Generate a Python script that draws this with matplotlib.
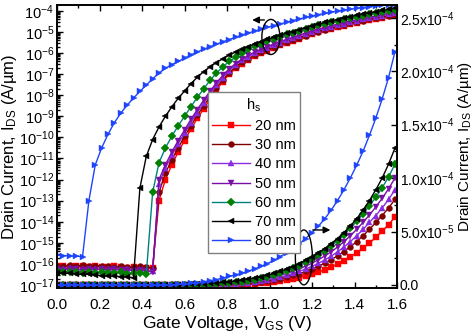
import matplotlib
matplotlib.use("Agg")
import numpy as np
import matplotlib.pyplot as plt
from matplotlib.patches import Ellipse
from matplotlib.ticker import (FixedLocator, FixedFormatter, LogLocator, MultipleLocator,
                               NullFormatter, FormatStrFormatter)

plt.rcParams["font.family"] = ["Liberation Sans", "DejaVu Sans"]
plt.rcParams["mathtext.fontset"] = "custom"
plt.rcParams["mathtext.rm"] = "Liberation Sans"
plt.rcParams["mathtext.it"] = "Liberation Sans:italic"

# gate voltage sweep (V)
vgs = [0.00, 0.03, 0.06, 0.09, 0.12, 0.15, 0.18, 0.21, 0.24, 0.27,
       0.30, 0.33, 0.36, 0.39, 0.42, 0.45, 0.48, 0.51, 0.54, 0.57,
       0.60, 0.63, 0.66, 0.69, 0.72, 0.75, 0.78, 0.81, 0.84, 0.87,
       0.90, 0.93, 0.96, 0.99, 1.02, 1.05, 1.08, 1.11, 1.14, 1.17,
       1.20, 1.23, 1.26, 1.29, 1.32, 1.35, 1.38, 1.41, 1.44, 1.47,
       1.50, 1.53, 1.56, 1.59]

# log10 of drain current (A/um), left axis
log_20 = [-16.12, -16.10, -16.14, -16.08, -16.12, -16.15, -16.10, -16.13, -16.16, -16.12,
          -16.14, -16.18, -16.15, -16.17, -16.20, -16.18, -13.0, -12.0, -11.3, -10.7,
          -10.15, -9.6, -9.1, -8.65, -8.2, -7.75, -7.35, -7.0, -6.72, -6.5,
          -6.32, -6.16, -6.02, -5.88, -5.76, -5.64, -5.53, -5.42, -5.31, -5.21,
          -5.11, -5.02, -4.93, -4.85, -4.77, -4.70, -4.63, -4.56, -4.50, -4.44,
          -4.38, -4.32, -4.26, -4.20]
log_30 = [-16.08, -16.12, -16.06, -16.10, -16.05, -16.09, -16.12, -16.08, -16.10, -16.14,
          -16.11, -16.13, -16.16, -16.12, -16.15, -16.20, -12.6, -11.7, -11.05, -10.5,
          -9.95, -9.45, -8.95, -8.5, -8.07, -7.65, -7.27, -6.93, -6.66, -6.44,
          -6.26, -6.10, -5.96, -5.83, -5.71, -5.59, -5.48, -5.37, -5.27, -5.17,
          -5.07, -4.98, -4.89, -4.81, -4.73, -4.66, -4.59, -4.52, -4.46, -4.40,
          -4.34, -4.28, -4.22, -4.16]
log_40 = [-16.22, -16.25, -16.20, -16.28, -16.24, -16.26, -16.22, -16.27, -16.25, -16.23,
          -16.28, -16.26, -16.30, -16.27, -16.32, -16.35, -12.2, -11.45, -10.85, -10.3,
          -9.8, -9.3, -8.82, -8.37, -7.93, -7.53, -7.16, -6.84, -6.57, -6.35,
          -6.17, -6.01, -5.87, -5.74, -5.62, -5.51, -5.40, -5.29, -5.19, -5.09,
          -5.00, -4.91, -4.83, -4.75, -4.67, -4.60, -4.53, -4.46, -4.40, -4.34,
          -4.28, -4.22, -4.16, -4.10]
log_50 = [-16.25, -16.28, -16.22, -16.26, -16.30, -16.24, -16.27, -16.25, -16.29, -16.26,
          -16.30, -16.28, -16.32, -16.30, -16.34, -16.38, -12.0, -11.3, -10.7, -10.15,
          -9.65, -9.15, -8.68, -8.24, -7.81, -7.42, -7.06, -6.76, -6.50, -6.29,
          -6.11, -5.96, -5.82, -5.69, -5.57, -5.46, -5.35, -5.25, -5.15, -5.05,
          -4.96, -4.87, -4.79, -4.71, -4.63, -4.56, -4.49, -4.42, -4.36, -4.30,
          -4.24, -4.18, -4.12, -4.06]
log_60 = [-16.35, -16.38, -16.40, -16.36, -16.42, -16.39, -16.44, -16.40, -16.45, -16.42,
          -16.40, -16.46, -16.43, -16.45, -16.48, -12.6, -11.2, -10.5, -9.95, -9.45,
          -9.0, -8.55, -8.1, -7.7, -7.3, -6.95, -6.65, -6.4, -6.2, -6.0,
          -5.83, -5.68, -5.55, -5.43, -5.32, -5.22, -5.12, -5.03, -4.94, -4.85,
          -4.77, -4.69, -4.61, -4.54, -4.47, -4.40, -4.34, -4.28, -4.22, -4.16,
          -4.10, -4.05, -4.00, -3.95]
log_70 = [-16.42, -16.45, -16.44, -16.48, -16.50, -16.47, -16.52, -16.55, -16.58, -16.57,
          -16.60, -16.62, -16.65, -12.4, -10.9, -10.1, -9.5, -9.0, -8.55, -8.15,
          -7.8, -7.45, -7.15, -6.88, -6.65, -6.45, -6.27, -6.10, -5.95, -5.82,
          -5.69, -5.57, -5.46, -5.35, -5.25, -5.15, -5.06, -4.98, -4.89, -4.80,
          -4.71, -4.63, -4.55, -4.48, -4.41, -4.34, -4.27, -4.21, -4.15, -4.09,
          -4.04, -3.98, -3.93, -3.88]
log_80 = [-15.58, -15.60, -15.62, -15.63, -15.66, -13.0, -11.3, -10.5, -9.85, -9.3,
          -8.85, -8.47, -8.13, -7.82, -7.52, -7.22, -6.95, -6.72, -6.55, -6.40,
          -6.24, -6.09, -5.95, -5.82, -5.70, -5.58, -5.47, -5.36, -5.25, -5.15,
          -5.05, -4.96, -4.87, -4.78, -4.70, -4.62, -4.54, -4.46, -4.38, -4.31,
          -4.24, -4.18, -4.12, -4.06, -4.01, -3.96, -3.92, -3.88, -3.84, -3.80,
          -3.77, -3.74, -3.71, -3.68]

# drain current in units of 1e-5 A/um, right axis
lin_20 = [0.0] * 29 + [0.03, 0.06, 0.10, 0.14, 0.20, 0.27, 0.35, 0.45, 0.56, 0.69,
                       0.84, 1.00, 1.20, 1.42, 1.67, 1.95, 2.27, 2.62, 3.02, 3.45,
                       3.92, 4.45, 5.02, 5.65, 6.35]
lin_30 = [0.0] * 27 + [0.04, 0.07, 0.11, 0.16, 0.22, 0.29, 0.37, 0.47, 0.59, 0.73,
                       0.89, 1.07, 1.27, 1.50, 1.76, 2.05, 2.37, 2.73, 3.13, 3.57,
                       4.05, 4.60, 5.20, 5.85, 6.50, 7.20, 8.00]
lin_40 = [0.0] * 26 + [0.05, 0.08, 0.12, 0.17, 0.23, 0.30, 0.38, 0.48, 0.60, 0.74,
                       0.90, 1.08, 1.28, 1.50, 1.75, 2.03, 2.34, 2.70, 3.10, 3.55,
                       4.05, 4.60, 5.20, 5.85, 6.50, 7.20, 8.00, 8.90]
lin_50 = [0.0] * 25 + [0.05, 0.08, 0.12, 0.17, 0.23, 0.30, 0.38, 0.48, 0.60, 0.74,
                       0.90, 1.08, 1.28, 1.50, 1.76, 2.04, 2.36, 2.72, 3.10, 3.55,
                       4.05, 4.60, 5.20, 5.85, 6.55, 7.30, 8.10, 9.00, 10.0]
lin_60 = [0.0] * 23 + [0.03, 0.06, 0.10, 0.14, 0.19, 0.25, 0.32, 0.40, 0.50, 0.62,
                       0.76, 0.92, 1.10, 1.30, 1.55, 1.82, 2.12, 2.45, 2.80, 3.20,
                       3.65, 4.15, 4.70, 5.30, 5.95, 6.65, 7.40, 8.20, 9.10, 10.1,
                       11.3]
lin_70 = [0.0] * 21 + [0.05, 0.08, 0.12, 0.16, 0.20, 0.25, 0.30, 0.38, 0.46, 0.55,
                       0.66, 0.78, 0.92, 1.08, 1.27, 1.48, 1.72, 2.00, 2.30, 2.63,
                       3.00, 3.40, 3.85, 4.35, 4.90, 5.50, 6.20, 7.00, 7.90, 8.90,
                       10.0, 11.3, 12.8]
lin_80 = [0.0] * 19 + [0.05, 0.10, 0.15, 0.20, 0.30, 0.40, 0.50, 0.65, 0.80, 0.95,
                       1.10, 1.30, 1.50, 1.75, 2.00, 2.30, 2.65, 3.00, 3.40, 3.85,
                       4.35, 4.90, 5.50, 6.20, 7.00, 7.90, 8.90, 10.0, 11.2, 12.5,
                       14.0, 15.6, 17.4, 19.4, 21.8]

labels = ["20 nm", "30 nm", "40 nm", "50 nm", "60 nm", "70 nm", "80 nm"]
log_data = [log_20, log_30, log_40, log_50, log_60, log_70, log_80]
lin_data = [lin_20, lin_30, lin_40, lin_50, lin_60, lin_70, lin_80]
line_colors = ["#ff0000", "#800000", "#8a2be2", "#7a0ea8", "#008080", "#000000", "#1f45fc"]
marker_colors = ["#ff0000", "#800000", "#8a2be2", "#7a0ea8", "#008000", "#000000", "#1f45fc"]
markers = ["s", "o", "^", "v", "D", "<", ">"]
msizes = [4.2, 4.2, 4.6, 4.6, 3.8, 4.8, 4.8]

right_ticks = [0.0, 5e-5, 1e-4, 1.5e-4, 2e-4, 2.5e-4]
right_labels = ["0.0", r"5.0x10$^{-5}$", r"1.0x10$^{-4}$", r"1.5x10$^{-4}$",
                r"2.0x10$^{-4}$", r"2.5x10$^{-4}$"]

fig = plt.figure(figsize=(4.74, 3.36), dpi=100)
ax = fig.add_axes([0.1203, 0.1429, 0.7173, 0.8423])
ax2 = ax.twinx()

x = np.array(vgs)
handles = []
for i in range(7):
    h, = ax.plot(x, 10 ** np.array(log_data[i]), color=line_colors[i], lw=1.0,
                 marker=markers[i], ms=msizes[i], mfc=marker_colors[i],
                 mec=marker_colors[i], mew=0.3, label=labels[i])
    handles.append(h)
    ax2.plot(x, np.array(lin_data[i]) * 1e-5, color=line_colors[i], lw=1.0,
             marker=markers[i], ms=msizes[i], mfc=marker_colors[i],
             mec=marker_colors[i], mew=0.3)

ax.set_yscale("log")
ax.set_xlim(0, 1.6)
ax.set_ylim(10 ** -17.14, 10 ** -3.72)
ax2.set_ylim(-0.28e-5, 2.62e-4)

ax.xaxis.set_major_locator(MultipleLocator(0.2))
ax.xaxis.set_minor_locator(MultipleLocator(0.1))
ax.xaxis.set_major_formatter(FormatStrFormatter("%.1f"))
ax.yaxis.set_major_locator(LogLocator(base=10, numticks=20))
ax.yaxis.set_minor_locator(LogLocator(base=10, subs=np.arange(2, 10), numticks=20))
ax.yaxis.set_minor_formatter(NullFormatter())

ax2.yaxis.set_major_locator(FixedLocator(right_ticks))
ax2.yaxis.set_major_formatter(FixedFormatter(right_labels))
ax2.yaxis.set_minor_locator(MultipleLocator(2.5e-5))

ax.tick_params(axis="both", which="both", direction="in", top=True, right=False,
               width=1.0)
ax.tick_params(axis="x", labelsize=11, pad=7)
ax.tick_params(axis="y", labelsize=10.5, pad=2)
ax.tick_params(which="major", length=4)
ax.tick_params(which="minor", length=2)
ax2.tick_params(axis="y", which="both", direction="in", labelsize=10, width=1.0, pad=2)
ax2.tick_params(which="major", length=4)
ax2.tick_params(which="minor", length=2)
for a in (ax, ax2):
    for s in a.spines.values():
        s.set_linewidth(1.2)

ax.set_xlabel(r"Gate Voltage, V$_{\mathrm{GS}}$ (V)", fontsize=12.5, labelpad=2)
ax.set_ylabel("Drain Current, I$_{\\mathrm{DS}}$ (A/\u00b5m)", fontsize=12, labelpad=0)
ax2.set_ylabel("Drain Current, I$_{\\mathrm{DS}}$ (A/\u00b5m)", fontsize=11,
               va="center", ha="center")
ax2.yaxis.set_label_coords(1.2, 0.5)

leg = ax2.legend(handles=handles, loc="upper left", bbox_to_anchor=(0.444, 0.693),
                 borderaxespad=0, title=r"h$_{\mathrm{s}}$", fontsize=10.5, title_fontsize=10.5,
                 frameon=True, fancybox=False, edgecolor="#808080", framealpha=1,
                 handlelength=2.6, handletextpad=0.3, labelspacing=0.36,
                 borderpad=0.3)
leg.get_frame().set_linewidth(1.0)

# annotation ellipses and arrows (axes fraction)
ax2.add_patch(Ellipse((0.629, 0.887), 0.053, 0.124, transform=ax.transAxes,
                      fill=False, edgecolor="black", lw=1.0, zorder=5))
ax2.annotate("", xy=(0.566, 0.947), xytext=(0.618, 0.947), xycoords="axes fraction",
             arrowprops=dict(arrowstyle="-|>", color="black", lw=1.0, mutation_scale=10))
ax2.add_patch(Ellipse((0.726, 0.108), 0.05, 0.194, transform=ax.transAxes,
                      fill=False, edgecolor="black", lw=1.0, zorder=5))
ax2.annotate("", xy=(0.812, 0.205), xytext=(0.744, 0.205), xycoords="axes fraction",
             arrowprops=dict(arrowstyle="-|>", color="black", lw=1.0, mutation_scale=10))

fig.savefig("out.png", dpi=100)
